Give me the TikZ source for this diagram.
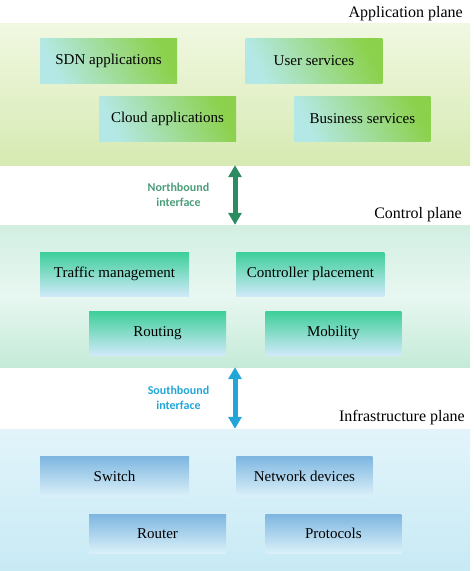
\documentclass[tikz,border=0pt]{standalone}
\usepackage{fontspec}
\setmainfont{Liberation Serif}
\newfontfamily\ifacefont{Carlito}
\usetikzlibrary{positioning,arrows.meta}
\definecolor{appbandtop}{HTML}{F1F8E2}
\definecolor{appbandbot}{HTML}{D6EAB2}
\definecolor{ctrlbandtop}{HTML}{D2EFE2}
\definecolor{ctrlbandmid}{HTML}{E8F7F1}
\definecolor{ctrlbandbot}{HTML}{C4EBD8}
\definecolor{infrabandtop}{HTML}{E2F4FA}
\definecolor{infrabandbot}{HTML}{C8EAF5}
\definecolor{appcyan}{HTML}{B4E8E6}
\definecolor{appgreen}{HTML}{8CD14C}
\definecolor{ctrltop}{HTML}{3DCF9A}
\definecolor{ctrlbot}{HTML}{CFE9F8}
\definecolor{infratop}{HTML}{7DB6E0}
\definecolor{infrabot}{HTML}{DAF0F9}
\definecolor{northgreen}{HTML}{2B8C62}
\definecolor{southblue}{HTML}{22A6D8}
\tikzset{
  band/.style={rectangle, minimum width=470pt, minimum height=142pt, inner sep=0pt},
  plane/.style={anchor=east, inner sep=0pt, font=\fontsize{16}{19}\selectfont},
  appbox/.style={rectangle, minimum width=137pt, minimum height=45pt,
    left color=appcyan, right color=appgreen, shading angle=115,
    font=\fontsize{15}{18}\selectfont},
  ctrlbox/.style={rectangle, minimum height=44pt, top color=ctrltop, bottom color=ctrlbot,
    font=\fontsize{15}{18}\selectfont},
  infrabox/.style={rectangle, minimum height=40pt, top color=infratop, bottom color=infrabot,
    font=\fontsize{15}{18}\selectfont},
  iface/.style={line width=5pt, {Triangle[width=13pt,length=12pt]}-{Triangle[width=13pt,length=12pt]}},
  ifacelabel/.style={align=center, font=\ifacefont\bfseries\fontsize{12}{15}\selectfont}
}

\begin{document}
\begin{tikzpicture}[x=1pt,y=-1pt]
  \useasboundingbox (0,0) rectangle (474,571);

  % the three planes
  \node[band, top color=appbandtop, bottom color=appbandbot] (appband) at (235,94) {};
  \node[band, top color=ctrlbandtop, bottom color=ctrlbandbot, middle color=ctrlbandmid] (ctrlband) at (235,296) {};
  \node[band, top color=infrabandtop, bottom color=infrabandbot] (infraband) at (235,500) {};
  \node[plane] (applabel) at (463,14) {Application plane};
  \node[plane] (ctrllabel) at (462,215) {Control plane};
  \node[plane] (infralabel) at (465,418) {Infrastructure plane};

  % application plane
  \node[appbox] (SDN) at (108.5,60.5) {SDN applications};
  \node[appbox] (User) [right=68pt of SDN] {User services};
  \node[appbox] (Cloud) at (167.5,119) {Cloud applications};
  \node[appbox, minimum width=136pt] (Business) [right=58pt of Cloud] {Business services};

  % control plane
  \node[ctrlbox, minimum width=149pt] (Traffic) at (114.5,274) {Traffic management};
  \node[ctrlbox, minimum width=148pt] (Controller) [right=47pt of Traffic] {Controller placement};
  \node[ctrlbox, minimum width=137pt] (Routing) at (157.5,333) {Routing};
  \node[ctrlbox, minimum width=136pt] (Mobility) [right=39pt of Routing] {Mobility};

  % infrastructure plane
  \node[infrabox, minimum width=149pt] (Switch) at (114.5,476) {Switch};
  \node[infrabox, minimum width=136pt] (Devices) [right=47pt of Switch] {Network devices};
  \node[infrabox, minimum width=137pt, minimum height=39pt] (Router) at (157.5,533.5) {Router};
  \node[infrabox, minimum width=136pt, minimum height=39pt] (Protocols) [right=39pt of Router] {Protocols};

  % interfaces
  \draw[iface, northgreen] (appband.south) -- node[ifacelabel, left=20pt, text=northgreen!85!white] {Northbound\\interface} (ctrlband.north);
  \draw[iface, southblue] (ctrlband.south) -- node[ifacelabel, left=20pt, text=southblue] {Southbound\\interface} (infraband.north);
\end{tikzpicture}
\end{document}
